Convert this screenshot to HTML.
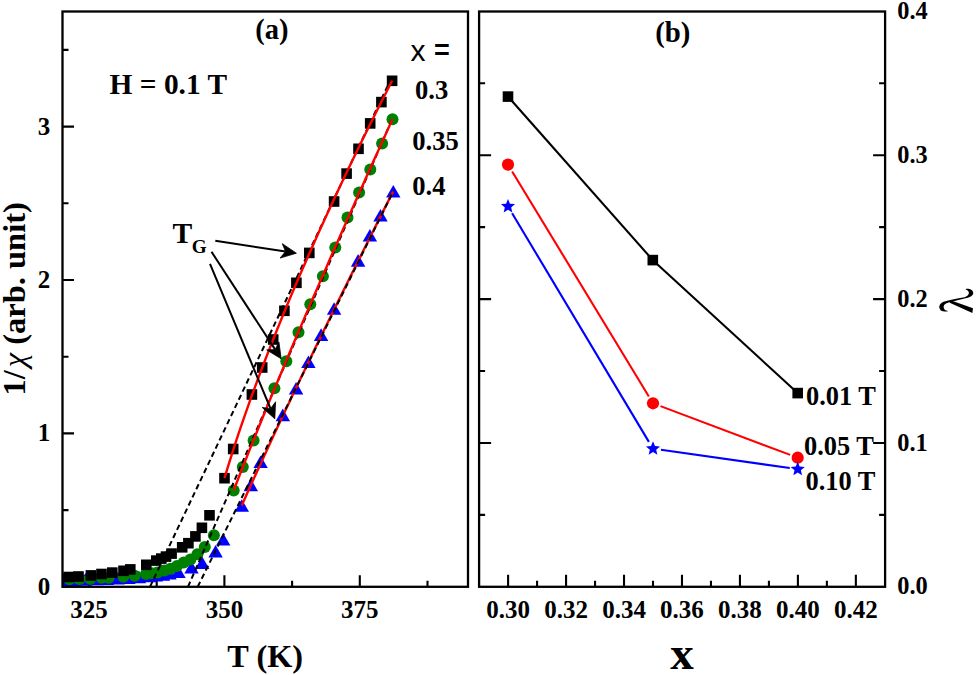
<!DOCTYPE html>
<html><head><meta charset="utf-8"><style>
html,body{margin:0;padding:0;background:#fff;}
body{width:976px;height:675px;overflow:hidden;font-family:"Liberation Serif",serif;}
svg{display:block;}
</style></head><body>
<svg width="976" height="675" viewBox="0 0 976 675">
<rect width="976" height="675" fill="#fff"/>
<defs><clipPath id="ca"><rect x="62.5" y="11.5" width="405.5" height="575.3"/></clipPath></defs>
<path d="M89.00,586.8 V575.3 M156.70,586.8 V580.8 M224.40,586.8 V575.3 M292.10,586.8 V580.8 M359.80,586.8 V575.3 M427.50,586.8 V580.8 M62.5,510.10 H68.5 M62.5,433.40 H74.0 M62.5,356.70 H68.5 M62.5,280.00 H74.0 M62.5,203.30 H68.5 M62.5,126.60 H74.0 M62.5,49.90 H68.5 M508.10,586.8 V574.8 M537.08,586.8 V580.8 M566.06,586.8 V574.8 M595.04,586.8 V580.8 M624.02,586.8 V574.8 M653.00,586.8 V580.8 M681.98,586.8 V574.8 M710.96,586.8 V580.8 M739.94,586.8 V574.8 M768.92,586.8 V580.8 M797.90,586.8 V574.8 M826.88,586.8 V580.8 M855.86,586.8 V574.8 M479.1,514.88 H485.1 M885.1,514.88 H879.1 M479.1,442.95 H491.1 M885.1,442.95 H873.1 M479.1,371.02 H485.1 M885.1,371.02 H879.1 M479.1,299.10 H491.1 M885.1,299.10 H873.1 M479.1,227.17 H485.1 M885.1,227.17 H879.1 M479.1,155.25 H491.1 M885.1,155.25 H873.1 M479.1,83.32 H485.1 M885.1,83.32 H879.1" stroke="#000" stroke-width="2.1" fill="none"/>
<g clip-path="url(#ca)">
<polygon points="63.30,573.50 70.50,586.10 56.10,586.10" fill="#0000ff"/>
<polygon points="74.40,573.30 81.60,585.90 67.20,585.90" fill="#0000ff"/>
<polygon points="85.30,573.10 92.50,585.70 78.10,585.70" fill="#0000ff"/>
<polygon points="96.50,572.70 103.70,585.30 89.30,585.30" fill="#0000ff"/>
<polygon points="107.00,572.40 114.20,585.00 99.80,585.00" fill="#0000ff"/>
<polygon points="117.70,572.00 124.90,584.60 110.50,584.60" fill="#0000ff"/>
<polygon points="128.50,571.50 135.70,584.10 121.30,584.10" fill="#0000ff"/>
<polygon points="139.00,570.70 146.20,583.30 131.80,583.30" fill="#0000ff"/>
<polygon points="149.00,569.70 156.20,582.30 141.80,582.30" fill="#0000ff"/>
<polygon points="156.00,568.90 163.20,581.50 148.80,581.50" fill="#0000ff"/>
<polygon points="163.00,568.20 170.20,580.80 155.80,580.80" fill="#0000ff"/>
<polygon points="169.50,567.00 176.70,579.60 162.30,579.60" fill="#0000ff"/>
<polygon points="178.50,565.40 185.70,578.00 171.30,578.00" fill="#0000ff"/>
<polygon points="191.50,560.90 198.70,573.50 184.30,573.50" fill="#0000ff"/>
<polygon points="202.20,556.50 209.40,569.10 195.00,569.10" fill="#0000ff"/>
<polygon points="215.60,544.90 222.80,557.50 208.40,557.50" fill="#0000ff"/>
<polygon points="223.20,533.00 230.40,545.60 216.00,545.60" fill="#0000ff"/>
<polygon points="241.80,499.20 249.00,511.80 234.60,511.80" fill="#0000ff"/>
<polygon points="250.80,478.60 258.00,491.20 243.60,491.20" fill="#0000ff"/>
<polygon points="260.60,455.50 267.80,468.10 253.40,468.10" fill="#0000ff"/>
<polygon points="282.80,408.60 290.00,421.20 275.60,421.20" fill="#0000ff"/>
<polygon points="296.10,381.90 303.30,394.50 288.90,394.50" fill="#0000ff"/>
<polygon points="308.40,355.40 315.60,368.00 301.20,368.00" fill="#0000ff"/>
<polygon points="321.10,328.30 328.30,340.90 313.90,340.90" fill="#0000ff"/>
<polygon points="334.10,302.20 341.30,314.80 326.90,314.80" fill="#0000ff"/>
<polygon points="358.10,254.10 365.30,266.70 350.90,266.70" fill="#0000ff"/>
<polygon points="369.90,229.00 377.10,241.60 362.70,241.60" fill="#0000ff"/>
<polygon points="380.50,209.00 387.70,221.60 373.30,221.60" fill="#0000ff"/>
<polygon points="393.30,184.90 400.50,197.50 386.10,197.50" fill="#0000ff"/>
<circle cx="69.50" cy="579.30" r="6.0" fill="#008000"/>
<circle cx="79.40" cy="579.10" r="6.0" fill="#008000"/>
<circle cx="90.30" cy="578.80" r="6.0" fill="#008000"/>
<circle cx="101.60" cy="577.80" r="6.0" fill="#008000"/>
<circle cx="108.70" cy="577.70" r="6.0" fill="#008000"/>
<circle cx="123.30" cy="576.70" r="6.0" fill="#008000"/>
<circle cx="134.70" cy="575.70" r="6.0" fill="#008000"/>
<circle cx="146.00" cy="574.00" r="6.0" fill="#008000"/>
<circle cx="152.00" cy="573.30" r="6.0" fill="#008000"/>
<circle cx="157.50" cy="572.60" r="6.0" fill="#008000"/>
<circle cx="164.40" cy="570.60" r="6.0" fill="#008000"/>
<circle cx="170.50" cy="568.80" r="6.0" fill="#008000"/>
<circle cx="177.00" cy="566.10" r="6.0" fill="#008000"/>
<circle cx="183.70" cy="562.60" r="6.0" fill="#008000"/>
<circle cx="190.40" cy="559.40" r="6.0" fill="#008000"/>
<circle cx="197.40" cy="554.30" r="6.0" fill="#008000"/>
<circle cx="204.80" cy="546.90" r="6.0" fill="#008000"/>
<circle cx="213.90" cy="535.30" r="6.0" fill="#008000"/>
<circle cx="233.70" cy="490.40" r="6.0" fill="#008000"/>
<circle cx="242.80" cy="467.00" r="6.0" fill="#008000"/>
<circle cx="253.60" cy="440.50" r="6.0" fill="#008000"/>
<circle cx="274.40" cy="388.20" r="6.0" fill="#008000"/>
<circle cx="286.30" cy="361.30" r="6.0" fill="#008000"/>
<circle cx="298.50" cy="332.30" r="6.0" fill="#008000"/>
<circle cx="310.30" cy="304.20" r="6.0" fill="#008000"/>
<circle cx="322.90" cy="276.20" r="6.0" fill="#008000"/>
<circle cx="335.30" cy="247.40" r="6.0" fill="#008000"/>
<circle cx="347.50" cy="217.50" r="6.0" fill="#008000"/>
<circle cx="359.10" cy="192.50" r="6.0" fill="#008000"/>
<circle cx="370.30" cy="169.50" r="6.0" fill="#008000"/>
<circle cx="382.10" cy="143.40" r="6.0" fill="#008000"/>
<circle cx="392.50" cy="119.20" r="6.0" fill="#008000"/>
<rect x="63.30" y="571.70" width="10.6" height="10.6" fill="#000"/>
<rect x="73.20" y="571.20" width="10.6" height="10.6" fill="#000"/>
<rect x="85.60" y="570.10" width="10.6" height="10.6" fill="#000"/>
<rect x="96.20" y="568.70" width="10.6" height="10.6" fill="#000"/>
<rect x="107.00" y="567.30" width="10.6" height="10.6" fill="#000"/>
<rect x="118.20" y="565.50" width="10.6" height="10.6" fill="#000"/>
<rect x="125.00" y="564.10" width="10.6" height="10.6" fill="#000"/>
<rect x="141.00" y="559.50" width="10.6" height="10.6" fill="#000"/>
<rect x="151.00" y="555.30" width="10.6" height="10.6" fill="#000"/>
<rect x="156.00" y="553.30" width="10.6" height="10.6" fill="#000"/>
<rect x="160.70" y="551.30" width="10.6" height="10.6" fill="#000"/>
<rect x="166.30" y="548.30" width="10.6" height="10.6" fill="#000"/>
<rect x="176.90" y="542.00" width="10.6" height="10.6" fill="#000"/>
<rect x="183.10" y="537.90" width="10.6" height="10.6" fill="#000"/>
<rect x="190.10" y="531.10" width="10.6" height="10.6" fill="#000"/>
<rect x="196.60" y="522.50" width="10.6" height="10.6" fill="#000"/>
<rect x="204.20" y="510.00" width="10.6" height="10.6" fill="#000"/>
<rect x="219.20" y="472.90" width="10.6" height="10.6" fill="#000"/>
<rect x="227.90" y="443.70" width="10.6" height="10.6" fill="#000"/>
<rect x="246.60" y="389.20" width="10.6" height="10.6" fill="#000"/>
<rect x="256.90" y="362.20" width="10.6" height="10.6" fill="#000"/>
<rect x="267.90" y="334.20" width="10.6" height="10.6" fill="#000"/>
<rect x="279.10" y="305.50" width="10.6" height="10.6" fill="#000"/>
<rect x="291.10" y="277.50" width="10.6" height="10.6" fill="#000"/>
<rect x="304.00" y="247.60" width="10.6" height="10.6" fill="#000"/>
<rect x="328.80" y="196.20" width="10.6" height="10.6" fill="#000"/>
<rect x="341.30" y="168.30" width="10.6" height="10.6" fill="#000"/>
<rect x="353.20" y="143.50" width="10.6" height="10.6" fill="#000"/>
<rect x="364.90" y="118.10" width="10.6" height="10.6" fill="#000"/>
<rect x="376.10" y="96.80" width="10.6" height="10.6" fill="#000"/>
<rect x="386.80" y="75.50" width="10.6" height="10.6" fill="#000"/>
<path d="M150,586.8 L391.4,78" stroke="#000" stroke-width="2" stroke-dasharray="5.5 3.5" fill="none"/>
<path d="M188,586.8 L392.3,118.9" stroke="#000" stroke-width="2" stroke-dasharray="5.5 3.5" fill="none"/>
<path d="M224.50,478.20 L227.29,468.89 L230.09,459.84 L232.88,451.02 L235.67,442.40 L238.47,433.95 L241.26,425.68 L244.05,417.55 L246.85,409.56 L249.64,401.69 L252.43,393.95 L255.23,386.31 L258.02,378.78 L260.81,371.35 L263.61,364.00 L266.40,356.74 L269.19,349.57 L271.99,342.47 L274.78,335.44 L277.57,328.48 L280.37,321.59 L283.16,314.76 L285.95,308.00 L288.75,301.29 L291.54,294.64 L294.33,288.04 L297.13,281.49 L299.92,275.00 L302.71,268.55 L305.51,262.15 L308.30,255.79 L311.09,249.48 L313.89,243.21 L316.68,236.98 L319.47,230.79 L322.27,224.64 L325.06,218.52 L327.85,212.44 L330.65,206.40 L333.44,200.39 L336.23,194.42 L339.03,188.47 L341.82,182.56 L344.61,176.68 L347.41,170.83 L350.20,165.01 L352.99,159.21 L355.79,153.45 L358.58,147.71 L361.37,142.00 L364.17,136.32 L366.96,130.66 L369.75,125.03 L372.55,119.42 L375.34,113.83 L378.13,108.27 L380.93,102.73 L383.72,97.22 L386.51,91.72 L389.31,86.25 L392.10,80.80" stroke="#ff0000" stroke-width="2.4" fill="none"/>
<path d="M233.70,490.40 L236.35,483.55 L238.99,476.74 L241.64,469.98 L244.29,463.26 L246.93,456.58 L249.58,449.93 L252.23,443.32 L254.87,436.74 L257.52,430.20 L260.17,423.68 L262.81,417.18 L265.46,410.72 L268.11,404.28 L270.75,397.86 L273.40,391.47 L276.05,385.10 L278.69,378.75 L281.34,372.42 L283.99,366.11 L286.63,359.82 L289.28,353.55 L291.93,347.29 L294.57,341.06 L297.22,334.84 L299.87,328.63 L302.51,322.44 L305.16,316.27 L307.81,310.11 L310.45,303.97 L313.10,297.84 L315.75,291.73 L318.39,285.63 L321.04,279.54 L323.69,273.46 L326.33,267.40 L328.98,261.35 L331.63,255.31 L334.27,249.28 L336.92,243.26 L339.57,237.26 L342.21,231.26 L344.86,225.28 L347.51,219.31 L350.15,213.35 L352.80,207.39 L355.45,201.45 L358.09,195.52 L360.74,189.59 L363.39,183.68 L366.03,177.77 L368.68,171.88 L371.33,165.99 L373.97,160.11 L376.62,154.24 L379.27,148.38 L381.91,142.53 L384.56,136.69 L387.21,130.85 L389.85,125.02 L392.50,119.20" stroke="#ff0000" stroke-width="2.4" fill="none"/>
<path d="M241.80,505.50 L244.32,499.79 L246.85,494.11 L249.37,488.47 L251.90,482.85 L254.43,477.26 L256.95,471.70 L259.47,466.15 L262.00,460.64 L264.53,455.14 L267.05,449.66 L269.57,444.21 L272.10,438.77 L274.62,433.35 L277.15,427.95 L279.67,422.56 L282.20,417.19 L284.72,411.83 L287.25,406.49 L289.78,401.16 L292.30,395.85 L294.82,390.55 L297.35,385.26 L299.88,379.99 L302.40,374.72 L304.93,369.47 L307.45,364.23 L309.97,359.00 L312.50,353.78 L315.03,348.57 L317.55,343.37 L320.07,338.19 L322.60,333.01 L325.12,327.84 L327.65,322.68 L330.17,317.53 L332.70,312.39 L335.22,307.25 L337.75,302.13 L340.28,297.01 L342.80,291.90 L345.32,286.80 L347.85,281.71 L350.37,276.62 L352.90,271.54 L355.43,266.47 L357.95,261.41 L360.47,256.35 L363.00,251.30 L365.52,246.26 L368.05,241.22 L370.57,236.19 L373.10,231.17 L375.62,226.15 L378.15,221.14 L380.67,216.14 L383.20,211.14 L385.72,206.14 L388.25,201.16 L390.77,196.18 L393.30,191.20" stroke="#ff0000" stroke-width="2.4" fill="none"/>
<path d="M197.7,586.8 L393.3,191.2" stroke="#000" stroke-width="2" stroke-dasharray="5.5 3.5" fill="none"/>
</g>
<line x1="215.3" y1="240.7" x2="285.53" y2="251.52" stroke="#000" stroke-width="2"/><polygon points="296.4,253.2 280.07,258.07 285.53,251.52 282.29,243.64" fill="#000" stroke="#000" stroke-width="0.8" stroke-linejoin="round"/>
<line x1="211.5" y1="251.8" x2="275.20" y2="349.58" stroke="#000" stroke-width="2"/><polygon points="281.2,358.8 266.68,349.88 275.20,349.58 278.91,341.91" fill="#000" stroke="#000" stroke-width="0.8" stroke-linejoin="round"/>
<line x1="210.0" y1="263.8" x2="270.56" y2="408.65" stroke="#000" stroke-width="2"/><polygon points="274.8,418.8 262.12,407.41 270.56,408.65 275.60,401.78" fill="#000" stroke="#000" stroke-width="0.8" stroke-linejoin="round"/>
<rect x="62.5" y="11.5" width="405.5" height="575.3" fill="none" stroke="#000" stroke-width="2.3"/>
<rect x="479.1" y="11.5" width="406.0" height="575.3" fill="none" stroke="#000" stroke-width="2.3"/>
<line x1="511.51" y1="100.57" x2="649.29" y2="256.13" stroke="#000" stroke-width="2.1"/>
<line x1="656.70" y1="263.68" x2="793.80" y2="389.52" stroke="#000" stroke-width="2.1"/>
<line x1="512.15" y1="171.44" x2="648.85" y2="396.46" stroke="#ff0000" stroke-width="2.1"/>
<line x1="660.49" y1="406.12" x2="790.21" y2="454.88" stroke="#ff0000" stroke-width="2.1"/>
<line x1="512.11" y1="213.26" x2="648.89" y2="441.84" stroke="#0000ff" stroke-width="2.1"/>
<line x1="660.92" y1="449.82" x2="789.78" y2="468.08" stroke="#0000ff" stroke-width="2.1"/>
<rect x="502.70" y="91.30" width="10.6" height="10.6" fill="#000"/>
<rect x="647.50" y="254.80" width="10.6" height="10.6" fill="#000"/>
<rect x="792.40" y="387.80" width="10.6" height="10.6" fill="#000"/>
<circle cx="508.00" cy="164.60" r="6.1" fill="#ff0000"/>
<circle cx="653.00" cy="403.30" r="6.1" fill="#ff0000"/>
<circle cx="797.70" cy="457.70" r="6.1" fill="#ff0000"/>
<polygon points="508.00,199.00 509.96,203.71 515.04,204.11 511.17,207.43 512.35,212.39 508.00,209.73 503.65,212.39 504.83,207.43 500.96,204.11 506.04,203.71" fill="#0000ff"/>
<polygon points="653.00,441.30 654.96,446.01 660.04,446.41 656.17,449.73 657.35,454.69 653.00,452.03 648.65,454.69 649.83,449.73 645.96,446.41 651.04,446.01" fill="#0000ff"/>
<polygon points="797.70,461.80 799.66,466.51 804.74,466.91 800.87,470.23 802.05,475.19 797.70,472.53 793.35,475.19 794.53,470.23 790.66,466.91 795.74,466.51" fill="#0000ff"/>
<text x="50.2" y="594.6999999999999" font-size="25" text-anchor="end" font-family="Liberation Serif" font-weight="bold" >0</text>
<text x="50.2" y="441.29999999999995" font-size="25" text-anchor="end" font-family="Liberation Serif" font-weight="bold" >1</text>
<text x="50.2" y="287.8999999999999" font-size="25" text-anchor="end" font-family="Liberation Serif" font-weight="bold" >2</text>
<text x="50.2" y="134.49999999999991" font-size="25" text-anchor="end" font-family="Liberation Serif" font-weight="bold" >3</text>
<text x="89.0" y="618.3" font-size="25" text-anchor="middle" font-family="Liberation Serif" font-weight="bold" >325</text>
<text x="224.4" y="618.3" font-size="25" text-anchor="middle" font-family="Liberation Serif" font-weight="bold" >350</text>
<text x="359.8" y="618.3" font-size="25" text-anchor="middle" font-family="Liberation Serif" font-weight="bold" >375</text>
<text x="508.10" y="618.0" font-size="25" text-anchor="middle" font-family="Liberation Serif" font-weight="bold" >0.30</text>
<text x="566.06" y="618.0" font-size="25" text-anchor="middle" font-family="Liberation Serif" font-weight="bold" >0.32</text>
<text x="624.02" y="618.0" font-size="25" text-anchor="middle" font-family="Liberation Serif" font-weight="bold" >0.34</text>
<text x="681.98" y="618.0" font-size="25" text-anchor="middle" font-family="Liberation Serif" font-weight="bold" >0.36</text>
<text x="739.94" y="618.0" font-size="25" text-anchor="middle" font-family="Liberation Serif" font-weight="bold" >0.38</text>
<text x="797.90" y="618.0" font-size="25" text-anchor="middle" font-family="Liberation Serif" font-weight="bold" >0.40</text>
<text x="855.86" y="618.0" font-size="25" text-anchor="middle" font-family="Liberation Serif" font-weight="bold" >0.42</text>
<text x="897.2" y="594.40" font-size="24.4" text-anchor="start" font-family="Liberation Serif" font-weight="bold" >0.0</text>
<text x="897.2" y="450.55" font-size="24.4" text-anchor="start" font-family="Liberation Serif" font-weight="bold" >0.1</text>
<text x="897.2" y="306.70" font-size="24.4" text-anchor="start" font-family="Liberation Serif" font-weight="bold" >0.2</text>
<text x="897.2" y="162.85" font-size="24.4" text-anchor="start" font-family="Liberation Serif" font-weight="bold" >0.3</text>
<text x="897.2" y="19.00" font-size="24.4" text-anchor="start" font-family="Liberation Serif" font-weight="bold" >0.4</text>
<text x="265.2" y="667" font-size="32.3" text-anchor="middle" font-family="Liberation Serif" font-weight="bold" >T (K)</text>
<text x="682" y="669.2" font-size="47" text-anchor="middle" font-family="Liberation Serif" font-weight="bold" >x</text>
<text transform="translate(25.3,395.5) rotate(-90)" font-size="32.5" font-family="Liberation Serif" font-weight="bold">1/<tspan dx="3" font-style="italic" font-weight="normal">χ</tspan> (arb. unit)</text>
<path d="M947.6,311.5 L944.5,311.6 C942.5,311.3 940.8,310.6 940.3,309.7 C939.4,308.5 939.2,307.3 939.3,306.3 C939.6,304.8 940.3,303.9 940.9,303.4 C942,302.4 943.2,302 944.5,301.6 L950.2,300.0 L957.3,298.6 L964.4,297.2 C966.2,296.7 967.6,295.9 968.4,294.6 C969.2,293.2 968.9,291.6 967.9,290.7 C967.2,290.1 966.6,289.9 965.9,289.8 L965.8,288.9 C967,288.7 968.5,288.8 969.6,289.1 C971.2,289.6 972.4,290.5 973.0,291.7 C973.5,292.9 973.3,294.1 972.5,295.0 C971.6,296.1 970.1,296.9 968.5,297.5 C967.4,297.9 966.4,298.1 965.5,298.3 L957.5,300.3 L950.5,301.9 C948.5,302.4 947,302.9 946.0,303.4 C944.6,304.2 943.8,305.3 943.7,306.3 C943.6,307.7 943.9,308.6 944.6,309.4 C945.4,310.2 946.4,310.6 947.6,310.8 Z" fill="#000"/>
<path d="M951.2,300.4 L973.0,308.2 L972.4,312.9 L949.7,302.7 Z" fill="#000"/>
<text x="271.9" y="39" font-size="28.6" text-anchor="middle" font-family="Liberation Serif" font-weight="bold" >(a)</text>
<text x="672.8" y="42.3" font-size="28.8" text-anchor="middle" font-family="Liberation Serif" font-weight="bold" >(b)</text>
<text x="109.6" y="94" font-size="29.4" text-anchor="start" font-family="Liberation Serif" font-weight="bold" >H = 0.1 T</text>
<text x="410.5" y="61" font-size="30" text-anchor="start" font-family="Liberation Sans" >x</text>
<text x="433.9" y="58.8" font-size="27" text-anchor="start" font-family="Liberation Sans" font-weight="bold" >=</text>
<text x="415" y="99.2" font-size="26.6" text-anchor="start" font-family="Liberation Serif" font-weight="bold" >0.3</text>
<text x="412.2" y="150.2" font-size="26.6" text-anchor="start" font-family="Liberation Serif" font-weight="bold" >0.35</text>
<text x="412.2" y="195.3" font-size="26.6" text-anchor="start" font-family="Liberation Serif" font-weight="bold" >0.4</text>
<text x="172.5" y="243" font-size="29.6" text-anchor="start" font-family="Liberation Serif" font-weight="bold" >T</text>
<text x="191.8" y="253.3" font-size="19.2" text-anchor="start" font-family="Liberation Serif" font-weight="bold" >G</text>
<text x="806" y="404.7" font-size="26.4" text-anchor="start" font-family="Liberation Serif" font-weight="bold" >0.01 T</text>
<text x="804" y="454.8" font-size="26.4" text-anchor="start" font-family="Liberation Serif" font-weight="bold" >0.05 T</text>
<text x="805.5" y="489.5" font-size="26.4" text-anchor="start" font-family="Liberation Serif" font-weight="bold" >0.10 T</text>
</svg>
</body></html>
